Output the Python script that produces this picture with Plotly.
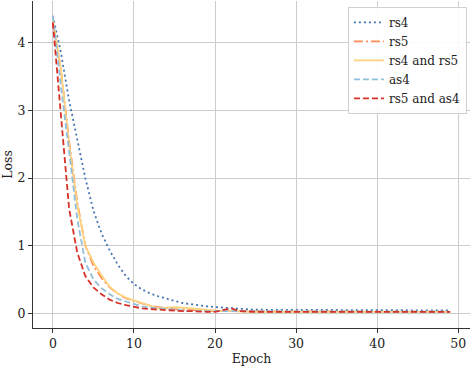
import plotly.graph_objects as go

epochs = list(range(50))

rs4 = [4.40, 3.85, 3.15, 2.55, 2.00, 1.52, 1.18, 0.93, 0.72, 0.55,
       0.43, 0.35, 0.29, 0.25, 0.21, 0.18, 0.15, 0.13, 0.11, 0.10,
       0.09, 0.08, 0.07, 0.06, 0.05, 0.05, 0.05, 0.05, 0.05, 0.04,
       0.04, 0.04, 0.04, 0.04, 0.04, 0.04, 0.04, 0.04, 0.04, 0.04,
       0.04, 0.04, 0.04, 0.04, 0.04, 0.04, 0.04, 0.04, 0.04, 0.04]

rs5 = [4.30, 3.60, 2.55, 1.65, 1.00, 0.70, 0.52, 0.38, 0.29, 0.22,
       0.18, 0.14, 0.11, 0.09, 0.07, 0.06, 0.05, 0.05, 0.04, 0.04,
       0.03, 0.03, 0.03, 0.02, 0.02, 0.02, 0.02, 0.02, 0.02, 0.02,
       0.02, 0.02, 0.02, 0.02, 0.02, 0.02, 0.02, 0.02, 0.02, 0.02,
       0.02, 0.02, 0.02, 0.02, 0.02, 0.02, 0.02, 0.02, 0.02, 0.02]

rs4_rs5 = [4.35, 3.60, 2.50, 1.60, 1.00, 0.75, 0.56, 0.39, 0.29, 0.23,
           0.19, 0.15, 0.11, 0.07, 0.08, 0.09, 0.08, 0.07, 0.05, 0.04,
           0.03, 0.03, 0.03, 0.02, 0.02, 0.02, 0.02, 0.02, 0.02, 0.02,
           0.02, 0.02, 0.02, 0.02, 0.02, 0.02, 0.02, 0.02, 0.02, 0.02,
           0.02, 0.02, 0.02, 0.02, 0.02, 0.02, 0.02, 0.02, 0.02, 0.02]

as4 = [4.40, 3.35, 2.40, 1.40, 0.75, 0.50, 0.37, 0.28, 0.21, 0.17,
       0.13, 0.10, 0.08, 0.07, 0.05, 0.04, 0.04, 0.03, 0.03, 0.03,
       0.02, 0.02, 0.02, 0.02, 0.02, 0.02, 0.02, 0.02, 0.02, 0.02,
       0.02, 0.02, 0.02, 0.02, 0.02, 0.02, 0.02, 0.02, 0.02, 0.02,
       0.02, 0.02, 0.02, 0.02, 0.02, 0.02, 0.02, 0.02, 0.02, 0.02]

rs5_as4 = [4.30, 2.90, 1.55, 0.90, 0.55, 0.38, 0.28, 0.20, 0.15, 0.12,
           0.09, 0.07, 0.06, 0.05, 0.04, 0.04, 0.03, 0.03, 0.02, 0.02,
           0.02, 0.05, 0.07, 0.03, 0.02, 0.02, 0.02, 0.02, 0.02, 0.02,
           0.02, 0.02, 0.02, 0.02, 0.02, 0.02, 0.02, 0.02, 0.02, 0.02,
           0.02, 0.02, 0.02, 0.02, 0.02, 0.02, 0.02, 0.02, 0.02, 0.02]

x_ticks = [0, 10, 20, 30, 40, 50]
y_ticks = [0, 1, 2, 3, 4]

series = [
    ("rs4", rs4, "#4575b4", "2px,3px"),
    ("rs5", rs5, "#fc8d59", "9px,3px,2px,3px"),
    ("rs4 and rs5", rs4_rs5, "#fed27f", "solid"),
    ("as4", as4, "#91bfdb", "6px,3px"),
    ("rs5 and as4", rs5_as4, "#d73027", "6px,3px"),
]

fig = go.Figure()
for name, vals, color, dash in series:
    fig.add_trace(go.Scatter(x=epochs, y=vals, mode="lines", name=name,
                             line=dict(color=color, dash=dash, width=1.8)))

serif = "DejaVu Serif, Liberation Serif, serif"
font = dict(family=serif, size=12.5, color="#222222")
fig.update_layout(
    width=474, height=366,
    margin=dict(l=33, r=4, t=1, b=38),
    paper_bgcolor="white", plot_bgcolor="white",
    font=font,
    showlegend=True,
    legend=dict(x=0.993, y=0.982, xanchor="right", yanchor="top",
                bgcolor="rgba(255,255,255,0.9)", bordercolor="#d0d0d0", borderwidth=1,
                font=dict(family=serif, size=12, color="#222222"),
                tracegroupgap=0, itemwidth=30),
    xaxis=dict(range=[-2.45, 51.45], tickvals=x_ticks,
               showgrid=True, gridcolor="#cccccc", gridwidth=1, zeroline=False,
               showline=True, linecolor="#333333", linewidth=1.2,
               ticks="outside", ticklen=4, tickcolor="#333333",
               tickfont=dict(family=serif, size=12.5),
               title=dict(text="Epoch", standoff=4, font=dict(family=serif, size=12.5)),
               automargin=False),
    yaxis=dict(range=[-0.22, 4.62], tickvals=y_ticks,
               showgrid=True, gridcolor="#cccccc", gridwidth=1, zeroline=False,
               showline=True, linecolor="#333333", linewidth=1.2,
               ticks="outside", ticklen=4, tickcolor="#333333",
               tickfont=dict(family=serif, size=12.5),
               title=dict(text="Loss", standoff=4, font=dict(family=serif, size=12.5)),
               automargin=False),
)

fig.write_html("out.html", config={"displayModeBar": False},
               post_script="document.body.style.margin='0';")
